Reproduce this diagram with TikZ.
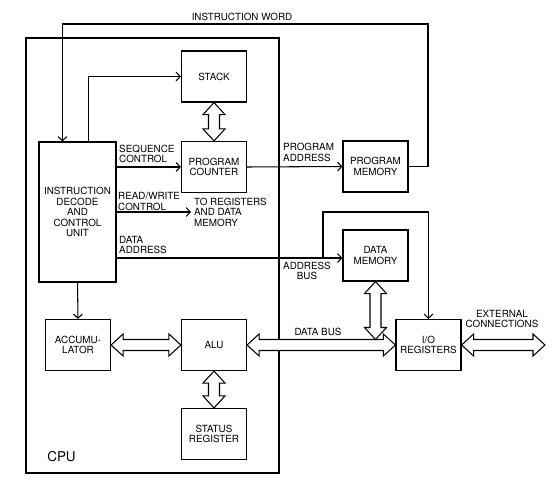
\documentclass[tikz,border=0pt]{standalone}
\usepackage{fontspec}
\setsansfont{TeX Gyre Heros}
\usetikzlibrary{arrows.meta,calc}

\begin{document}
\begin{tikzpicture}[x=0.03cm,y=-0.03cm,
	every node/.style={font=\sffamily\fontsize{8.4}{8.9}\selectfont},
	box/.style={draw,line width=1pt,minimum width=1.95cm,minimum height=1.53cm,align=center,inner sep=1pt},
	lbl/.style={align=left,anchor=west,inner sep=0pt},
	arr/.style={line width=0.9pt,-{Straight Barb[length=3.5pt,width=7.5pt]}},
	bus/.style={draw,fill=white,line width=0.9pt},
	hbus/.style={to path={-- ++(12,11) -- ++(0,-5.5) -- ($(\tikztotarget)+(-12,5.5)$) -- ++(0,5.5) -- (\tikztotarget) -- ++(-12,-11) -- ++(0,5.5) -- ($(\tikztostart)+(12,-5.5)$) -- ++(0,-5.5) -- cycle}},
	vbus/.style={to path={-- ++(11,12) -- ++(-5.5,0) -- ($(\tikztotarget)+(5.5,-12)$) -- ++(5.5,0) -- (\tikztotarget) -- ++(-11,-12) -- ++(5.5,0) -- ($(\tikztostart)+(-5.5,12)$) -- ++(-5.5,0) -- cycle}}]
	\useasboundingbox (0,0) rectangle (555,485);
	% cpu frame
	\node[draw,line width=1.8pt,minimum width=7.59cm,minimum height=13.05cm] (cpu) at (152.5,255.5) {};
	\node[font=\sffamily\fontsize{11.5}{12}\selectfont] (cpul) at (61.5,457) {CPU};
	% blocks
	\node[box,minimum width=2.31cm,minimum height=4.2cm] (decode) at (77.5,212) {INSTRUCTION\\DECODE\\AND\\CONTROL\\UNIT};
	\node[box] (stack) at (214,76.5) {STACK};
	\node[box] (pc) at (214,167) {PROGRAM\\COUNTER};
	\node[box] (pmem) at (375.5,166.5) {PROGRAM\\MEMORY};
	\node[box] (dmem) at (375.5,255.5) {DATA\\MEMORY};
	\node[box] (acc) at (78,345) {ACCUMU-\\LATOR};
	\node[box] (alu) at (214,345) {ALU};
	\node[box] (status) at (214,434) {STATUS\\REGISTER};
	\node[box] (io) at (428.5,345) {I/O\\REGISTERS};
	% labels
	\node (iwl) at (242,17) {INSTRUCTION WORD};
	\node[lbl] (seql) at (119,154) {SEQUENCE\\CONTROL};
	\node[lbl] (rwl) at (118,201.5) {READ/WRITE\\CONTROL};
	\node[lbl,inner sep=2.5pt] (toreg) at (191,212) {TO REGISTERS\\AND DATA\\MEMORY};
	\node[lbl] (dal) at (119,245) {DATA\\ADDRESS};
	\node[lbl] (pal) at (283,152.5) {PROGRAM\\ADDRESS};
	\node[align=center] (abl) at (307,271) {ADDRESS\\BUS};
	\node (dbl) at (318,332) {DATA BUS};
	\node[align=center] (ecl) at (502,319) {EXTERNAL\\CONNECTIONS};
	% control lines
	\coordinate (iw) at (428,24);
	\draw[arr] (pmem.east) -| (iw) -| ($(decode.north west)+(24,0)$);
	\draw[arr] ($(decode.north west)+(50,0)$) |- (stack.west);
	\draw[arr] (decode.east |- pc.west) -- (pc.west);
	\draw[arr] (decode.east |- toreg.west) -- (toreg.west);
	\draw[arr] (pc.east) -- (pmem.west);
	\draw[arr] (decode.south) -- (acc.north);
	\coordinate (ab) at (323,258);
	\coordinate (iob) at (428.5,212);
	\draw[arr] (decode.east |- ab) -- (ab -| dmem.west);
	\draw[arr] (ab) |- (iob) -- (io.north);
	% buses
	\coordinate (dbus) at (375.5,339.5);
	\coordinate (ext) at (545,345);
	\draw[bus] (stack.south) to[vbus] (pc.north);
	\draw[bus] (acc.east) to[hbus] (alu.west);
	\draw[bus] (alu.south) to[vbus] (status.north);
	\draw[bus] (alu.east) to[hbus] (io.west);
	\draw[bus] (dmem.south) to[vbus] (dbus);
	\draw[bus] (io.east) to[hbus] (ext);
\end{tikzpicture}
\end{document}
